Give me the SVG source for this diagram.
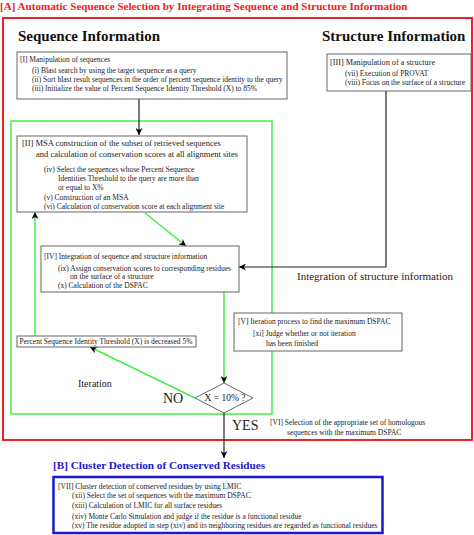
<svg xmlns="http://www.w3.org/2000/svg" width="474" height="535" viewBox="0 0 474 535" font-family="'Liberation Serif', 'Times New Roman', serif">
<style>
text{font-family:'Liberation Serif','Times New Roman',serif;fill:#222}
.s{font-size:7.5px}
.m{font-size:7.5px}
.box{fill:#fff;stroke:#666;stroke-width:1}
.g{stroke:#44ee44;stroke-width:1.5;fill:none}
.k{stroke:#222;stroke-width:1.2;fill:none}
.h{font-weight:bold;font-size:15px;fill:#111}
</style>
<defs>
<marker id="ah" viewBox="0 0 10 10" refX="10" refY="5" markerWidth="7" markerHeight="7" markerUnits="userSpaceOnUse" orient="auto">
<path d="M0,0 L10,5 L0,10 L3,5 z" fill="#000"/>
</marker>
</defs>
<rect width="474" height="535" fill="#fff"/>
<text x="0" y="9.5" font-weight="bold" font-size="11.1" fill="#ee2222" style="fill:#ee2222">[A] Automatic Sequence Selection by Integrating Sequence and Structure Information</text>
<rect id="regionA" x="3" y="18" width="469" height="422" fill="none" stroke="#ee2222" stroke-width="2"/>
<text class="h" x="18" y="41">Sequence Information</text>
<text class="h" x="322" y="41">Structure Information</text>
<rect id="iterationLoop" x="11" y="121" width="261" height="293" class="g" stroke-width="2"/>
<g id="connectors">
<line x1="139" y1="99" x2="139" y2="135" class="k" marker-end="url(#ah)"/>
<line x1="145" y1="213" x2="186" y2="246" class="g" marker-end="url(#ah)"/>
<polyline points="386,91 386,267 239,267" class="k" marker-end="url(#ah)"/>
<line x1="224" y1="292" x2="224" y2="383" class="g" marker-end="url(#ah)"/>
<line x1="195" y1="398" x2="90" y2="347" class="g" marker-end="url(#ah)"/>
<line x1="35" y1="336" x2="35" y2="212" class="g" marker-end="url(#ah)"/>
<line x1="224" y1="413" x2="224" y2="458" class="k" marker-end="url(#ah)"/>
</g>
<g id="nodeI">
<rect x="17" y="52" width="270" height="47" class="box"/>
<text class="s" x="20" y="61.8">[I] Manipulation of sequences</text>
<text class="s" x="32" y="72.6">(i) Blast search by using the target sequence as a query</text>
<text class="s" x="32" y="81.9">(ii) Sort blast result sequences in the order of percent sequence identity to the query</text>
<text class="s" x="32" y="91.3">(iii) Initialize the value of Percent Sequence Identity Threshold (X) to 85%</text>
</g>
<g id="nodeIII">
<rect x="327" y="54" width="144" height="37" class="box"/>
<text x="330" y="64.8" font-size="8.2">[III] Manipulation of a structure</text>
<text class="s" x="345" y="75.6">(vii) Execution of PROVAT</text>
<text class="s" x="345" y="84.6">(viii) Focus on the surface of a structure</text>
</g>
<g id="nodeII">
<rect x="17" y="136" width="230" height="76" class="box"/>
<text x="22" y="146" font-size="8.5">[II] MSA construction of the subset of retrieved sequences</text>
<text x="36" y="157" font-size="8.5">and calculation of conservation scores at all alignment sites</text>
<text class="s" x="44" y="171.6">(iv) Select the sequences whose Percent Sequence</text>
<text class="s" x="58" y="180.6">Identities Threshold to the query are more than</text>
<text class="s" x="58" y="189.6">or equal to X%</text>
<text class="s" x="44" y="199.6">(v) Construction of an MSA</text>
<text class="s" x="44" y="208.6">(vi) Calculation of conservation score at each alignment site</text>
</g>
<g id="nodeIV">
<rect x="41" y="246" width="198" height="46" class="box"/>
<text class="m" x="44" y="258.6">[IV] Integration of sequence and structure information</text>
<text class="m" x="58" y="270.6">(ix) Assign conservation scores to corresponding residues</text>
<text class="m" x="70" y="278.8">on the surface of a structure</text>
<text class="m" x="58" y="287.6">(x) Calculation of the DSPAC</text>
</g>
<text x="297" y="280" font-size="11">Integration of structure information</text>
<g id="nodeV">
<rect x="234" y="313" width="168" height="38" class="box"/>
<text class="s" x="238" y="323.6">[V] Iteration process to find the maximum DSPAC</text>
<text class="s" x="253" y="335.6">[xi] Judge whether or not iteration</text>
<text class="s" x="266" y="345.6">has been finished</text>
</g>
<g id="nodeDecrease">
<rect x="17" y="336" width="179" height="11" class="box"/>
<text class="s" x="19.5" y="344">Percent Sequence Identity Threshold (X) is decreased 5%</text>
</g>
<text x="78" y="386.5" font-size="10">Iteration</text>
<text x="163" y="403" font-size="14">NO</text>
<g id="nodeDecision">
<polygon points="224,383 253,398 224,413 195,398" class="box"/>
<text x="225" y="401.2" text-anchor="middle" font-size="9.5">X = 10% ?</text>
</g>
<text x="232" y="430" font-size="14">YES</text>
<g id="nodeVI">
<text class="s" x="270" y="424.6">[VI] Selection of the appropriate set of homologous</text>
<text class="s" x="287" y="434.6">sequences with the maximum DSPAC</text>
</g>
<text x="53" y="469" font-weight="bold" font-size="11.2" fill="#1a1acc" style="fill:#1a1acc">[B] Cluster Detection of Conserved Residues</text>
<g id="nodeVII">
<rect x="53.5" y="477" width="329" height="56" fill="#fff" stroke="#1a1acc" stroke-width="2.5"/>
<text class="s" x="58" y="488.6">[VII] Cluster detection of conserved residues by using LMIC</text>
<text class="s" x="72" y="497.8">(xii) Select the set of sequences with the maximum DSPAC</text>
<text class="s" x="72" y="508.3">(xiii) Calculation of LMIC for all surface residues</text>
<text class="s" x="72" y="518.6">(xiv) Monte Carlo Simulation and judge if the residue is a functional residue</text>
<text class="s" x="72" y="528.3">(xv) The residue adopted in step (xiv) and its neighboring residues are regarded as functional residues</text>
</g>
</svg>
